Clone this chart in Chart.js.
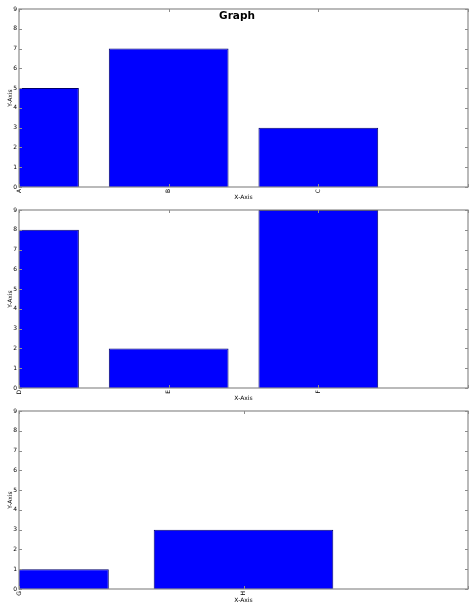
<!DOCTYPE html>
<html>
<head>
<meta charset="utf-8">
<script src="https://cdn.jsdelivr.net/npm/chart.js@4/dist/chart.umd.min.js"></script>
<style>
  html, body { margin: 0; padding: 0; background: #fff; }
  body { width: 474px; height: 609px; position: relative; overflow: hidden; }
  .box { position: absolute; left: 0; width: 474px; }
</style>
</head>
<body>
<div class="box" id="b1" style="top:0px;height:206px;"><canvas id="c1"></canvas></div>
<div class="box" id="b2" style="top:206px;height:201px;"><canvas id="c2"></canvas></div>
<div class="box" id="b3" style="top:407px;height:202px;"><canvas id="c3"></canvas></div>
<script>
// ---- data ----
const chartTitle = 'Graph';
const xAxisTitle = 'X-Axis';
const yAxisTitle = 'Y-Axis';
const categoriesTop = ['A', 'B', 'C'];
const valuesTop = [5, 7, 3];
const categoriesMiddle = ['D', 'E', 'F'];
const valuesMiddle = [8, 2, 9];
const categoriesBottom = ['G', 'H'];
const valuesBottom = [1, 3];
const yMin = 0;
const yMax = 9;

const FONT = "'DejaVu Sans', sans-serif";
const AXIS_COLOR = '#8c8c8c';

const frameTicks = {
  id: 'frameTicks',
  afterDatasetsDraw(chart) {
    const { ctx, chartArea: a, scales } = chart;
    ctx.save();
    ctx.strokeStyle = AXIS_COLOR;
    ctx.lineWidth = 1;
    ctx.beginPath();
    const L = 3;
    scales.y.ticks.forEach(t => {
      const py = Math.round(scales.y.getPixelForValue(t.value)) + 0.5;
      ctx.moveTo(a.left, py); ctx.lineTo(a.left + L, py);
      ctx.moveTo(a.right, py); ctx.lineTo(a.right - L, py);
    });
    scales.x.ticks.forEach(t => {
      const px = Math.round(scales.x.getPixelForValue(t.value)) + 0.5;
      ctx.moveTo(px, a.bottom); ctx.lineTo(px, a.bottom - L);
      ctx.moveTo(px, a.top); ctx.lineTo(px, a.top + L);
    });
    ctx.stroke();
    ctx.lineWidth = 1.2;
    ctx.strokeRect(a.left, a.top, a.right - a.left, a.bottom - a.top);
    ctx.restore();
  }
};

const titleText = {
  id: 'titleText',
  afterDraw(chart, args, opts) {
    if (!opts || !opts.text) return;
    const { ctx } = chart;
    ctx.save();
    ctx.font = "bold 10.5px " + FONT;
    ctx.fillStyle = '#000';
    ctx.textAlign = 'center';
    ctx.textBaseline = 'middle';
    ctx.fillText(opts.text, chart.width / 2, opts.y);
    ctx.restore();
  }
};

function makeChart(id, categories, values, padTop, xHeight, title) {
  const data = categories.map((c, i) => ({ x: i, y: values[i] }));
  return new Chart(document.getElementById(id), {
    type: 'bar',
    data: {
      datasets: [{
        data: data,
        backgroundColor: '#0000ff',
        borderColor: '#00006a',
        borderWidth: 1,
        barPercentage: 0.8,
        categoryPercentage: 1.0
      }]
    },
    options: {
      responsive: true,
      maintainAspectRatio: false,
      animation: false,
      layout: { padding: { top: padTop, right: 6, left: 0, bottom: 0 } },
      plugins: {
        legend: { display: false },
        tooltip: { enabled: false },
        titleText: title ? { text: title, y: 16 } : {}
      },
      scales: {
        x: {
          type: 'linear',
          offset: false,
          min: 0,
          max: categories.length,
          grid: { display: false, drawTicks: false },
          border: { display: false },
          ticks: {
            stepSize: 1,
            autoSkip: false,
            minRotation: 90,
            maxRotation: 90,
            padding: 2,
            color: '#000',
            font: { family: FONT, size: 6 },
            callback: (v) => (categories[v] !== undefined ? categories[v] : '')
          },
          title: {
            display: true,
            text: xAxisTitle,
            color: '#000',
            font: { family: FONT, size: 6 },
            padding: { top: 0, bottom: 5 }
          },
          afterFit: (s) => { s.height = xHeight; s.paddingLeft = 0; s.paddingRight = 0; }
        },
        y: {
          min: yMin,
          max: yMax,
          grid: { display: false, drawTicks: false },
          border: { display: false },
          ticks: {
            stepSize: 1,
            padding: 2,
            color: '#000',
            font: { family: FONT, size: 6 }
          },
          title: {
            display: true,
            text: yAxisTitle,
            color: '#000',
            font: { family: FONT, size: 6 },
            padding: { top: 7, bottom: 7 }
          },
          afterFit: (s) => { s.width = 19; s.paddingTop = 0; s.paddingBottom = 0; }
        }
      }
    },
    plugins: [frameTicks, titleText]
  });
}

makeChart('c1', categoriesTop, valuesTop, 9, 19, chartTitle);
makeChart('c2', categoriesMiddle, valuesMiddle, 4, 19, null);
makeChart('c3', categoriesBottom, valuesBottom, 4, 20, null);
</script>
</body>
</html>
